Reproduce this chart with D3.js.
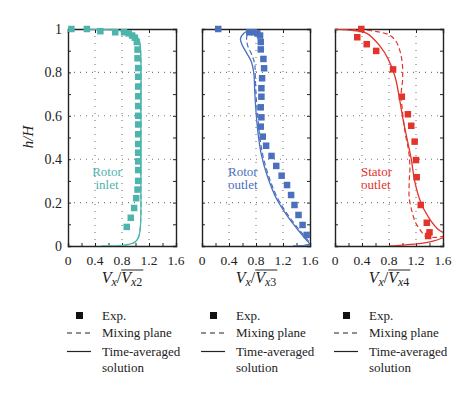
<!DOCTYPE html>
<html>
<head>
<meta charset="utf-8">
<script src="https://cdn.jsdelivr.net/npm/d3@7"></script>
<style>
  body { margin: 0; background: #fff; }
  text { font-family: "Liberation Serif", "DejaVu Serif", serif; fill: #222; }
</style>
</head>
<body>
<div id="chart"></div>
<script>

// Data: [V/Vref, h/H]
var inletExp = [[0.05,1.0],[0.28,1.0],[0.48,0.99],[0.70,0.985],[0.83,0.985],[0.90,0.98],[0.95,0.97],[0.99,0.96],
  [1.02,0.94],[1.03,0.905],[1.03,0.865],[1.04,0.82],[1.04,0.78],[1.04,0.735],[1.04,0.69],[1.04,0.645],[1.04,0.60],
  [1.04,0.56],[1.04,0.515],[1.04,0.47],[1.04,0.43],[1.04,0.39],[1.04,0.35],[1.04,0.30],[1.03,0.26],[1.01,0.22],
  [0.98,0.175],[0.93,0.13],[0.87,0.088]];
var inletMix = [[0.3,1.0],[0.7,0.995],[0.9,0.985],[1.0,0.97],[1.05,0.95],[1.07,0.92],[1.08,0.85],[1.08,0.6],
  [1.08,0.3],[1.08,0.15],[1.07,0.08],[1.05,0.045],[1.0,0.02],[0.9,0.007],[0.7,0.001],[0.5,0]];
var inletAvg = [[0.3,1.0],[0.7,0.995],[0.9,0.985],[1.0,0.97],[1.05,0.95],[1.07,0.92],[1.08,0.85],[1.08,0.6],
  [1.08,0.3],[1.08,0.15],[1.07,0.08],[1.05,0.045],[1.0,0.02],[0.9,0.007],[0.7,0.001],[0.5,0]];

var rotorExp = [[0.24,1.0],[0.70,0.985],[0.77,0.985],[0.82,0.98],[0.86,0.97],[0.87,0.94],[0.87,0.906],[0.91,0.862],
  [0.92,0.819],[0.89,0.773],[0.88,0.727],[0.88,0.688],[0.87,0.639],[0.88,0.593],[0.87,0.55],[0.90,0.504],
  [0.95,0.462],[1.03,0.415],[1.10,0.369],[1.18,0.324],[1.26,0.281],[1.32,0.235],[1.37,0.189],[1.43,0.143],
  [1.49,0.097],[1.55,0.051]];
var rotorMix = [[0.75,1.0],[0.68,0.98],[0.66,0.955],[0.68,0.92],[0.74,0.88],[0.78,0.84],[0.79,0.78],[0.80,0.70],
  [0.82,0.62],[0.85,0.52],[0.90,0.42],[0.99,0.32],[1.12,0.22],[1.28,0.14],[1.44,0.075],[1.56,0.03],[1.6,0.01],
  [1.5,0.002],[1.35,0]];
var rotorAvg = [[0.75,1.0],[0.62,0.98],[0.57,0.955],[0.59,0.93],[0.66,0.89],[0.73,0.85],[0.77,0.79],[0.78,0.72],
  [0.80,0.62],[0.83,0.52],[0.88,0.42],[0.97,0.32],[1.10,0.22],[1.26,0.14],[1.42,0.075],[1.54,0.03],[1.59,0.01],
  [1.5,0.002],[1.35,0]];

var statorExp = [[0.39,1.0],[0.33,0.962],[0.47,0.93],[0.61,0.899],[0.86,0.814],[0.99,0.688],[1.08,0.607],
  [1.13,0.554],[1.18,0.481],[1.20,0.396],[1.21,0.317],[1.27,0.189],[1.36,0.107],[1.40,0.063],[1.38,0.046]];
var statorMix = [[0.0,1.0],[0.32,0.998],[0.62,0.988],[0.81,0.972],[0.91,0.94],[0.97,0.89],[1.0,0.83],[1.0,0.76],
  [0.98,0.70],[1.0,0.62],[1.04,0.52],[1.09,0.44],[1.11,0.36],[1.10,0.30],[1.10,0.22],[1.14,0.16],[1.19,0.11],
  [1.28,0.066],[1.35,0.043],[1.5,0.04],[1.62,0.045]];
var statorAvg = [[0.0,1.0],[0.22,0.995],[0.47,0.98],[0.67,0.92],[0.79,0.86],[0.89,0.78],[0.96,0.67],[1.01,0.58],
  [1.07,0.49],[1.13,0.40],[1.18,0.30],[1.26,0.21],[1.38,0.135],[1.51,0.082],[1.6,0.062],[1.7,0.05],[1.6,0.038],
  [1.45,0.022],[1.28,0.012],[1.0,0.004],[0.8,0]];

var xTicks = [0, 0.4, 0.8, 1.2, 1.6];
var yTicks = [0, 0.2, 0.4, 0.6, 0.8, 1];
var yTickLabels = ["0", "0.2", "0.4", "0.6", "0.8", "1"];
var panelNames = [["Rotor", "inlet"], ["Rotor", "outlet"], ["Stator", "outlet"]];
var refSubs = ["2", "3", "4"];
var legendLabels = ["Exp.", "Mixing plane", "Time-averaged", "solution"];

var panels = [
  { exp: inletExp, mix: inletMix, avg: inletAvg, color: "#4db5ab", left: 68, labelX: 107, anchor: "middle" },
  { exp: rotorExp, mix: rotorMix, avg: rotorAvg, color: "#4a70be", left: 202, labelX: 228, anchor: "start" },
  { exp: statorExp, mix: statorMix, avg: statorAvg, color: "#e3342c", left: 335, labelX: 361, anchor: "start" }
];

var width = 474, height = 395;
var plotTop = 29, pw = 108, ph = 217;

var svg = d3.select("#chart").append("svg")
  .attr("width", width)
  .attr("height", height);

var x = d3.scaleLinear().domain([0, 1.6]).range([0, pw]);
var y = d3.scaleLinear().domain([0, 1]).range([ph, 0]);

var line = d3.line()
  .x(function(d){ return x(d[0]); })
  .y(function(d){ return y(d[1]); })
  .curve(d3.curveCatmullRom.alpha(0.5));

svg.append("defs").append("clipPath")
  .attr("id", "clip")
  .append("rect")
  .attr("width", pw)
  .attr("height", ph);

panels.forEach(function(p, i){
  var g = svg.append("g")
    .attr("transform", "translate(" + p.left + "," + plotTop + ")");

  // dotted grid
  g.selectAll(".vgrid").data(xTicks.slice(1, -1)).enter().append("line")
    .attr("x1", function(d){ return x(d); }).attr("x2", function(d){ return x(d); })
    .attr("y1", 0).attr("y2", ph)
    .attr("stroke", "#777").attr("stroke-width", 1.1)
    .attr("stroke-dasharray", "1,6");
  g.selectAll(".hgrid").data(yTicks.slice(1, -1)).enter().append("line")
    .attr("y1", function(d){ return y(d); }).attr("y2", function(d){ return y(d); })
    .attr("x1", 0).attr("x2", pw)
    .attr("stroke", "#777").attr("stroke-width", 1.1)
    .attr("stroke-dasharray", "1,5");

  // axes with mirrored inward ticks
  var xMinor = d3.range(0, 1.61, 0.2);
  var yMinor = d3.range(0, 1.01, 0.1);
  g.append("g").attr("transform", "translate(0," + ph + ")")
    .call(d3.axisBottom(x).tickValues(xMinor).tickSize(-3).tickFormat(""));
  g.append("g")
    .call(d3.axisTop(x).tickValues(xTicks).tickSize(-4).tickFormat(""));
  g.append("g")
    .call(d3.axisLeft(y).tickValues(yMinor).tickSize(-3).tickFormat(""));
  g.append("g").attr("transform", "translate(" + pw + ",0)")
    .call(d3.axisRight(y).tickValues(yMinor).tickSize(-3).tickFormat(""));
  g.selectAll(".domain").attr("stroke", "#222").attr("stroke-width", 1.4);
  g.selectAll(".tick line").attr("stroke", "#222").attr("stroke-width", 1);

  // tick labels
  g.selectAll(".xlab").data(xTicks).enter().append("text")
    .attr("x", function(d){ return x(d); })
    .attr("y", ph + 19)
    .attr("text-anchor", "middle")
    .style("font-size", "13.5px")
    .text(function(d){ return d === 0 ? "0" : d3.format(".1f")(d); });
  if (i === 0) {
    g.selectAll(".ylab").data(yTicks).enter().append("text")
      .attr("x", -6)
      .attr("y", function(d){ return y(d) + 5; })
      .attr("text-anchor", "end")
      .style("font-size", "14px")
      .text(function(d, j){ return yTickLabels[j]; });
  }

  var plot = g.append("g").attr("clip-path", "url(#clip)");

  plot.append("path").datum(p.mix)
    .attr("d", line).attr("fill", "none")
    .attr("stroke", p.color).attr("stroke-width", 1.2)
    .attr("stroke-dasharray", "5,3");
  plot.append("path").datum(p.avg)
    .attr("d", line).attr("fill", "none")
    .attr("stroke", p.color).attr("stroke-width", 1.3);

  g.selectAll(".sq").data(p.exp).enter().append("rect")
    .attr("x", function(d){ return x(d[0]) - 3.25; })
    .attr("y", function(d){ return y(d[1]) - 3.25; })
    .attr("width", 6.5).attr("height", 6.5)
    .attr("fill", p.color);

  // panel label, two lines
  panelNames[i].forEach(function(s, k){
    svg.append("text")
      .attr("x", p.labelX).attr("y", 176 + k * 13)
      .attr("text-anchor", p.anchor)
      .style("font-size", "13px")
      .style("fill", p.color)
      .text(s);
  });

  // x axis title  V_x / V_xN (overlined)
  var t = svg.append("text")
    .attr("x", p.left + pw / 2)
    .attr("y", 283)
    .attr("text-anchor", "middle")
    .style("font-size", "16px");
  t.append("tspan").style("font-style", "italic").text("V");
  t.append("tspan").style("font-style", "italic").style("font-size", "12px").attr("dy", 3).text("x");
  t.append("tspan").attr("dy", -3).text("/");
  t.append("tspan").style("font-style", "italic").text("V");
  t.append("tspan").style("font-style", "italic").style("font-size", "12px").attr("dy", 3).text("x");
  t.append("tspan").style("font-size", "12px").text(refSubs[i]);
  var node = t.node();
  var n = node.getNumberOfChars();
  var x0 = node.getStartPositionOfChar(3).x;
  var x1 = node.getEndPositionOfChar(n - 1).x;
  svg.append("line")
    .attr("x1", x0).attr("x2", x1 + 1)
    .attr("y1", 270).attr("y2", 270)
    .attr("stroke", "#222").attr("stroke-width", 1);

  // legend
  var lg = svg.append("g").attr("transform", "translate(" + p.left + ",0)");
  lg.append("rect").attr("x", 8).attr("y", 312).attr("width", 7).attr("height", 7).attr("fill", "#111");
  lg.append("line").attr("x1", -1).attr("x2", 23).attr("y1", 333).attr("y2", 333)
    .attr("stroke", "#222").attr("stroke-width", 1.2).attr("stroke-dasharray", "5,4");
  lg.append("line").attr("x1", -1).attr("x2", 23).attr("y1", 351.5).attr("y2", 351.5)
    .attr("stroke", "#222").attr("stroke-width", 1.2);
  var ly = [320, 337, 356, 372];
  legendLabels.forEach(function(s, k){
    lg.append("text").attr("x", 34).attr("y", ly[k]).style("font-size", "13px").text(s);
  });
});

// y axis title
svg.append("text")
  .attr("transform", "translate(33,137)rotate(-90)")
  .attr("text-anchor", "middle")
  .style("font-size", "15px")
  .style("font-style", "italic")
  .text("h/H");

</script>
</body>
</html>
